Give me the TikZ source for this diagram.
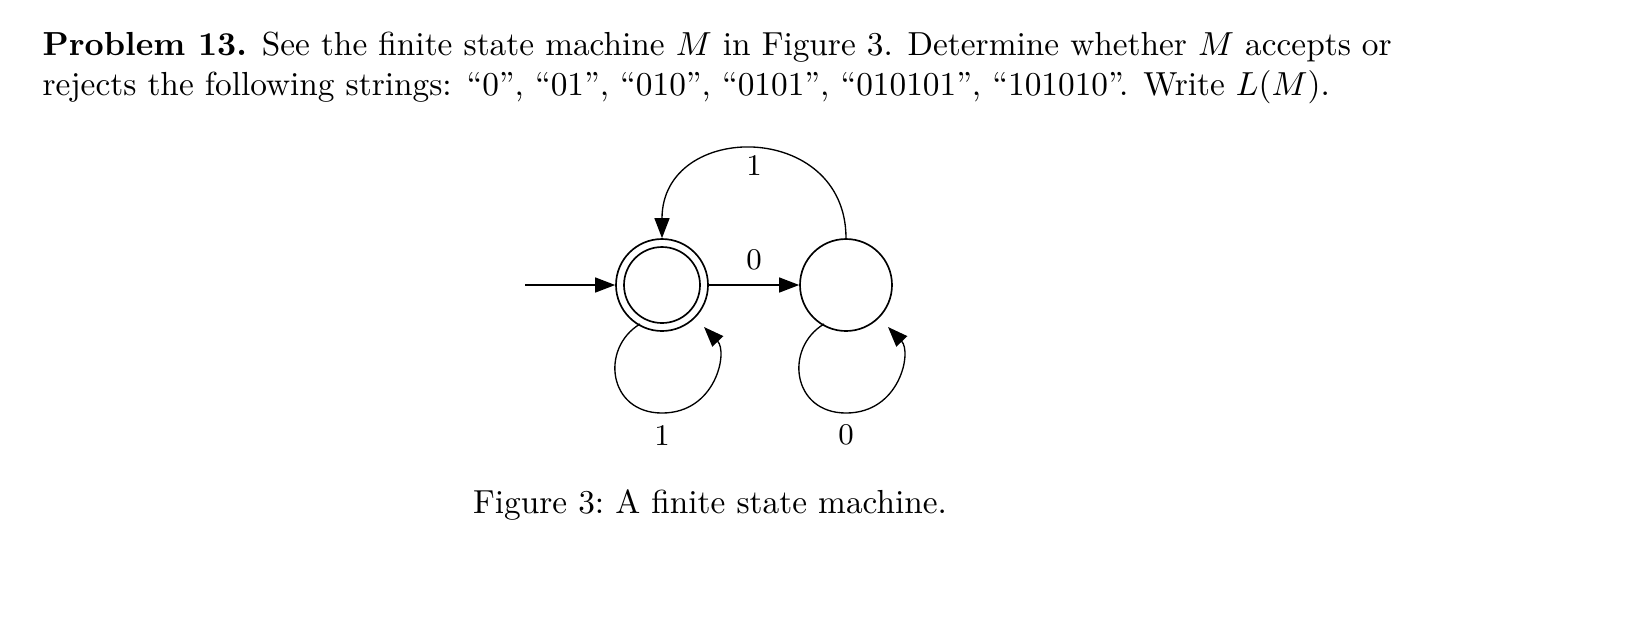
\documentclass[tikz,border=0pt]{standalone}
\usetikzlibrary{arrows.meta}
\begin{document}
\begin{tikzpicture}[x=0.3pt,y=-0.3pt,
  st/.style={circle,draw,line width=0.5pt,minimum size=27.6pt,inner sep=0pt},
  ar/.style={-{Triangle[length=6pt,width=4.5pt]},line width=0.4pt},
  lbl/.style={font=\small}]
\useasboundingbox (0,0) rectangle (1646,620);
\node[anchor=base west,inner sep=0pt] (l1) at (42,55) {\textbf{Problem 13.} See the finite state machine $M$ in Figure 3. Determine whether $M$ accepts or};
\node[anchor=base west,inner sep=0pt] (l2) at (42,95) {rejects the following strings: ``0'', ``01'', ``010'', ``0101'', ``010101'', ``101010''. Write $L(M)$.};
\node[st] (A) at (662,285) {};
\node[circle,draw,line width=0.5pt,minimum size=22.8pt,inner sep=0pt] (Ai) at (662,285) {};
\node[st] (B) at (846,285) {};
\coordinate (s) at (525,285);
\draw[ar] (s) -- (A);
\draw[ar] (A) -- node[lbl,above=1pt] (z) {0} (B);
\draw[ar] (B.north) .. controls (846,120) and (662,120) .. (A.north);
\node[lbl] (one) at (754,165) {1};
\coordinate (a1) at (640,324); \coordinate (a2) at (704,327);
\coordinate (b1) at (824,324); \coordinate (b2) at (888,327);
\draw[ar] (a1) .. controls (600,348) and (608,413) .. (662,413) .. controls (716,413) and (728,352) .. (a2);
\draw[ar] (b1) .. controls (784,348) and (792,413) .. (846,413) .. controls (900,413) and (912,352) .. (b2);
\node[lbl] (la) at (662,435) {1};
\node[lbl] (lb) at (846,435) {0};
\node[anchor=base,inner sep=0pt,font=\normalsize] (cap) at (710,513) {Figure 3:\ A finite state machine.};
\end{tikzpicture}
\end{document}
